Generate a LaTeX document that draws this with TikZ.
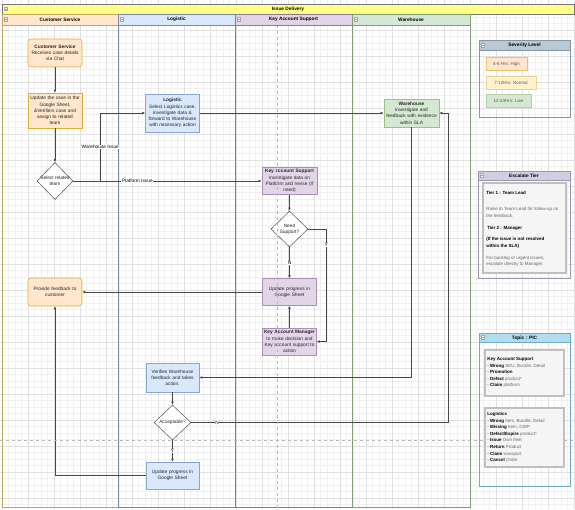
\documentclass[tikz,border=0pt]{standalone}
\usepackage{fontspec}
\setmainfont{Liberation Sans}
\usepackage{xcolor}
\usetikzlibrary{arrows.meta, positioning, calc, shapes.geometric}

\definecolor{csFill}{HTML}{FFE6CC}
\definecolor{csLine}{HTML}{D79B00}
\definecolor{lgFill}{HTML}{DAE8FC}
\definecolor{lgLine}{HTML}{6C8EBF}
\definecolor{kaFill}{HTML}{E1D5E7}
\definecolor{kaLine}{HTML}{9673A6}
\definecolor{whFill}{HTML}{D5E8D4}
\definecolor{whLine}{HTML}{82B366}
\definecolor{ylFill}{HTML}{FFF2CC}
\definecolor{ylLine}{HTML}{D6B656}
\definecolor{poolFill}{HTML}{FFFF88}
\definecolor{poolLine}{HTML}{36393D}
\definecolor{sevFill}{HTML}{BAC8D3}
\definecolor{sevLine}{HTML}{23445D}
\definecolor{escFill}{HTML}{D0CEE2}
\definecolor{escLine}{HTML}{56517E}
\definecolor{picFill}{HTML}{B1DDF0}
\definecolor{picLine}{HTML}{10739E}
\definecolor{noteFill}{HTML}{F5F5F5}
\definecolor{txtGray}{HTML}{666666}
\definecolor{gridMinor}{HTML}{F0F0F0}
\definecolor{gridMajor}{HTML}{E0E0E0}

\newcommand\boxfont{\fontsize{4.8}{6.2}\selectfont}
\newcommand\panelfont{\fontsize{4.5}{6.6}\selectfont}
\newcommand\gry[1]{{\color{txtGray}#1}}

\begin{document}
\begin{tikzpicture}[x=1pt, y=-1pt, line width=0.6pt,
  every node/.style={font=\boxfont, text=black!85},
  flowbox/.style={draw, minimum width=54, text width=52, align=center, inner sep=1},
  csbox/.style={flowbox, fill=csFill, draw=csLine!80},
  lgbox/.style={flowbox, fill=lgFill, draw=lgLine!80},
  kabox/.style={flowbox, fill=kaFill, draw=kaLine!80},
  whbox/.style={flowbox, fill=whFill, draw=whLine!80},
  decision/.style={diamond, draw=black!60, fill=white, inner sep=0, minimum width=37, minimum height=36},
  dtext/.style={font=\boxfont, align=center, text=black!85},
  flow/.style={-{Latex[length=3pt,width=2.6pt]}, draw=black!72, line width=0.55pt},
  elabel/.style={fill=white, inner sep=0.6pt, text=black},
  lanehead/.style={draw, font=\boxfont\bfseries, text=black, minimum height=11, inner sep=0},
  panelhead/.style={draw, font=\boxfont\bfseries, text=black, minimum width=91, minimum height=9.5, inner sep=0},
  sevbox/.style={draw, line width=1pt, font=\panelfont, text=black!65, minimum height=13, inner sep=1.5},
  notebox/.style={draw=gray!50, fill=noteFill, line width=1.3pt},
  notetext/.style={font=\panelfont, align=left, anchor=west, inner sep=0, text=black},
]
  % Page and grid
  \fill[white] (0,0) rectangle (575,509);
  \useasboundingbox (0,0) rectangle (575,509);
  \foreach \gx in {2,8.5,...,575} {
    \draw[gridMinor, line width=0.3pt] (\gx,0) -- (\gx,509);
  }
  \foreach \gy in {4,10.5,...,509} {
    \draw[gridMinor, line width=0.3pt] (0,\gy) -- (575,\gy);
  }
  \foreach \gx in {2,28,...,575} {
    \draw[gridMajor, line width=0.4pt] (\gx,0) -- (\gx,509);
  }
  \foreach \gy in {4,30,...,509} {
    \draw[gridMajor, line width=0.4pt] (0,\gy) -- (575,\gy);
  }

  % Lanes
  \draw[ylLine!75!gray] (2,14) rectangle (118,507);
  \draw[lgLine!55!gray] (118,14) rectangle (235,507);
  \draw[kaLine!55!gray] (235,14) rectangle (352,507);
  \draw[whLine!60!gray] (352,14) rectangle (470,507);

  % Customer Service lane
  \node[csbox, rounded corners=3, minimum height=28] (csBox) at (55,53)
    {\textbf{Customer Service}\\Receives case details\\via Chat};
  \node[csbox, minimum height=35] (csUpd) at (55,110.5)
    {Update the case in the\\Google Sheet,\\\&Verifiers case and\\assign to related\\team};
  \node[decision, minimum width=36, minimum height=37,
    label={[dtext]center:Select related\\team}] (dSel) at (55,181) {};
  \node[csbox, rounded corners=3, minimum height=28] (fbBox) at (55,292)
    {Provide feedback to\\customer};

  % Logistic lane
  \node[lgbox, minimum height=38] (lgBox) at (172.5,113)
    {\textbf{Logistic}\\Select Logistics case,\\investigate data \&\\forward to Warehouse\\with necessary action};
  \node[lgbox, minimum width=53, text width=51, minimum height=29] (vfBox) at (172.5,377.5)
    {Verifies Warehouse\\feedback and takes\\action.};
  \node[decision, minimum height=35,
    label={[dtext]center:Acceptable?}] (dAcc) at (172.5,422.5) {};
  \node[lgbox, minimum width=53, text width=51, minimum height=27] (lgUpd) at (172.5,475.5)
    {Update progress in\\Google Sheet};

  % Key Account Support lane
  \node[kabox, minimum width=55, minimum height=27] (kasBox) at (289.5,181)
    {\textbf{Key account Support}\\Investigate data on\\Platform and revise (If\\need)};
  \node[decision, label={[dtext]center:Need\\Support?}] (dNeed) at (289.5,229) {};
  \node[kabox, minimum height=27] (kasUpd) at (289.5,292)
    {Update progress in\\Google Sheet};
  \node[kabox, minimum height=27] (kamBox) at (289.5,341.5)
    {\textbf{Key Account Manager}\\to make decision and\\Key account support to\\action};

  % Warehouse lane
  \node[whbox, minimum width=55, minimum height=28] (whBox) at (411.5,113)
    {\textbf{Warehouse}\\Investigate and\\feedback with evidence\\within SLA};

  % Connectors
  \draw[flow] (csBox.south) -- (csUpd.north);
  \draw[flow] (csUpd.south) -- (dSel.north);
  \draw[flow] (dSel.east) -- ++(27,0) |- node[elabel, pos=0.25] {Warehouse Issue} (lgBox.west);
  \draw[flow] (dSel.east) -- node[elabel, pos=0.34] {Platform Issue} (kasBox.west);
  \draw[flow] (lgBox.east) -- (whBox.west);
  \draw[flow] (kasBox.south) -- (dNeed.north);
  \draw[flow] (dNeed.south) -- node[elabel] {N} (kasUpd.north);
  \draw[flow] (dNeed.east) -- ++(18,0) |- node[elabel, pos=0.07] {Y} (kamBox.east);
  \draw[flow] (kamBox.north) -- (kasUpd.south);
  \draw[flow] (kasUpd.west) -- (fbBox.east);
  \draw[flow] (whBox.south) |- (vfBox.east);
  \draw[flow] (vfBox.south) -- (dAcc.north);
  \draw[flow] (dAcc.south) -- node[elabel] {Y} (lgUpd.north);
  \draw[flow] (dAcc.east) -- node[elabel, pos=0.1] {N} ++(257,0) |- (whBox.east);
  \draw[flow] (lgUpd.west) -| (fbBox.south);

  % Page breaks (dashed)
  \draw[gray!55, line width=0.5pt, dash pattern=on 3pt off 3pt] (277,25) -- (277,509);
  \draw[gray!55, line width=0.5pt, dash pattern=on 3pt off 3pt] (0,440) -- (575,440);

  % Pool and lane headers
  \node[lanehead, fill=poolFill, draw=poolLine!70, minimum width=572, minimum height=10] (hdPool) at (288,9) {Issue Delivery};
  \node[lanehead, fill=csFill, draw=ylLine!75!gray, minimum width=116] (hdCS) at (60,19.5) {Customer Service};
  \node[lanehead, fill=lgFill, draw=lgLine!55!gray, minimum width=117] (hdLG) at (176.5,19.5) {Logistic};
  \node[lanehead, fill=kaFill, draw=kaLine!55!gray, minimum width=117] (hdKA) at (293.5,19.5) {Key Account Support};
  \node[lanehead, fill=whFill, draw=whLine!60!gray, minimum width=118] (hdWH) at (411,19.5) {Warehouse};

  % Severity Level
  \draw[sevLine!55] (479,41) rectangle (570,117);
  \node[panelhead, fill=sevFill, draw=sevLine!55] (hdSev) at (524.5,45.5) {Severity Level};
  \node[sevbox, fill=csFill, draw=csLine!60, minimum width=41] (sevHigh) at (506.5,64) {4-6 Hrs: High};
  \node[sevbox, fill=ylFill, draw=ylLine!60, minimum width=50] (sevNorm) at (511,82.5) {7-12Hrs: Normal};
  \node[sevbox, fill=whFill, draw=whLine!60, minimum width=45] (sevLow) at (508.5,100.5) {12-24Hrs: Low};

  % Escalate Tier
  \draw[escLine!60] (478,171) rectangle (570,278);
  \node[panelhead, fill=escFill, draw=escLine!60, minimum width=92] (hdEsc) at (524,176) {Escalate Tier};
  \draw[notebox] (483,183) rectangle (566,273);
  \node[notetext] (escT1) at (486,193) {\textbf{Tier 1 : Team Lead}};
  \node[notetext, text=txtGray] (escR1) at (486,212.5) {Raise to Team Lead for follow-up on\\the feedback.};
  \node[notetext] (escT2) at (487,228) {\textbf{Tier 2 : Manager}};
  \node[notetext] (escIf) at (486,243) {\textbf{(If the issue is not resolved}\\\textbf{within the SLA)}};
  \node[notetext, text=txtGray] (escFor) at (486,261.5) {For backlog or urgent issues,\\escalate directly to Manager.};

  % Topic : PIC
  \draw[picLine!60] (479,333) rectangle (570,486);
  \node[panelhead, fill=picFill, draw=picLine!60] (hdPic) at (524.5,338) {Topic : PIC};
  \draw[notebox] (485,350) rectangle (564,396);
  \node[notetext] (picKA) at (487,372.5) {\textbf{Key Account Support}\\
    - \textbf{Wrong} \gry{SKU, Bundle, Detail}\\
    - \textbf{Promotion}\\
    - \textbf{Defect} \gry{product*}\\
    - \textbf{Claim} \gry{platform}};
  \draw[notebox] (485,408) rectangle (564,467);
  \node[notetext] (picLG) at (487,437) {\textbf{Logistics}\\
    - \textbf{Wrong} \gry{Item, Bundle, Detail}\\
    - \textbf{Missing} \gry{Item, GWP}\\
    - \textbf{Defect/Expire} \gry{product*}\\
    - \textbf{Issue} \gry{Own fleet}\\
    - \textbf{Return} \gry{Product}\\
    - \textbf{Claim} \gry{transport}\\
    - \textbf{Cancel} \gry{Order}};

  % Collapse icons
  \foreach \ix/\iy in {4/7, 4/17.5, 120/17.5, 237/17.5, 354/17.5, 481/43.5, 480/173.5, 481/335.5} {
    \draw[gray!70, fill=white, line width=0.3pt] (\ix,\iy) rectangle ++(3.5,3.5);
    \draw[gray!70, line width=0.3pt] (\ix+0.8,\iy+1.75) -- ++(1.9,0);
  }
\end{tikzpicture}
\end{document}
